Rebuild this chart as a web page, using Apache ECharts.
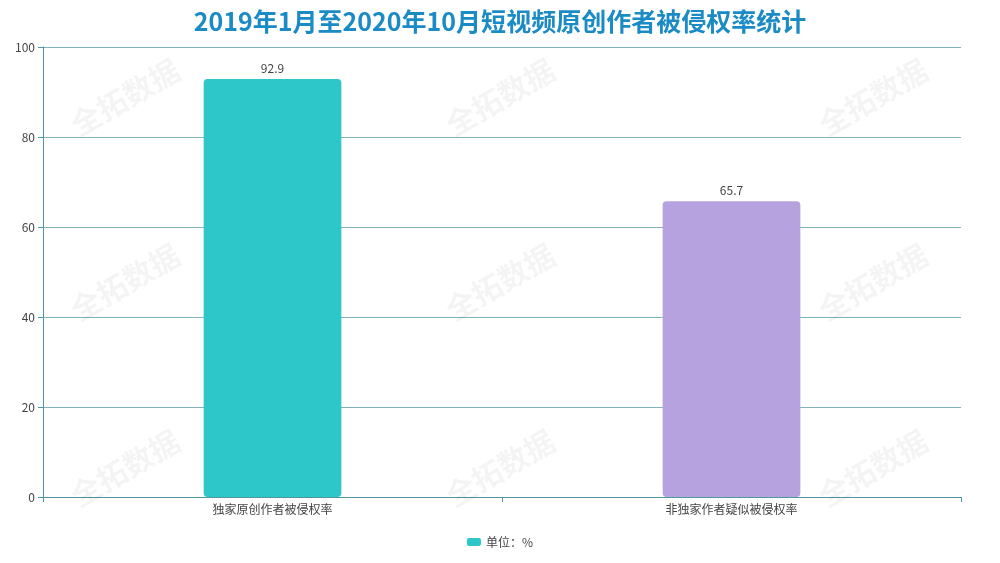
<!DOCTYPE html>
<html><head><meta charset="utf-8">
<script src="https://cdn.jsdelivr.net/npm/echarts@6/dist/echarts.min.js"></script>
<style>html,body{margin:0;padding:0;background:#fff}#c{width:1000px;height:563px}</style>
</head><body><div id="c"></div>
<script>
const categories = ['独家原创作者被侵权率', '非独家作者疑似被侵权率'];
const values = [92.9, 65.7];
const barColors = ['#2ec7c9', '#b6a2de'];
const yTicks = {min: 0, max: 100, interval: 20};
const seriesName = '单位：%';
const titleText = '2019年1月至2020年10月短视频原创作者被侵权率统计';

const font = '"Noto Sans CJK SC","Noto Sans",sans-serif';
const axisColor = '#4f97a3';
const splitColor = '#80b3ba';
const wmPos = [];
[125, 500, 873].forEach(x => [97, 282, 468].forEach(y => wmPos.push([x, y])));
const chart = echarts.init(document.getElementById('c'));
chart.setOption({
  textStyle: {fontFamily: font},
  title: {text: titleText, left: 'center', top: 4,
    textStyle: {fontSize: 25, fontWeight: 'bold', color: '#1a8bc4', fontFamily: font}},
  graphic: wmPos.map(p => ({type: 'text', x: p[0], y: p[1], rotation: Math.PI / 6, z: 100,
    style: {text: '全拓数据', fontSize: 30, fontWeight: 'bold', fill: 'rgba(0,0,0,0.045)',
      align: 'center', verticalAlign: 'middle', fontFamily: font}})),
  legend: {bottom: 10, left: 'center', itemWidth: 14, itemHeight: 8, icon: 'roundRect',
    textStyle: {color: '#444', fontSize: 12}, data: [seriesName]},
  grid: {left: 43, right: 39, top: 47, bottom: 66, containLabel: false},
  xAxis: {type: 'category', data: categories,
    axisLine: {show: true, lineStyle: {color: axisColor, width: 1}},
    axisTick: {show: true, alignWithLabel: false, lineStyle: {color: axisColor}},
    axisLabel: {color: '#444', fontSize: 12, margin: 6}},
  yAxis: {type: 'value', min: yTicks.min, max: yTicks.max, interval: yTicks.interval,
    axisLine: {show: true, lineStyle: {color: axisColor, width: 1}},
    axisTick: {show: true, length: 5, lineStyle: {color: axisColor}},
    splitLine: {show: true, lineStyle: {color: splitColor, width: 1}},
    axisLabel: {color: '#444', fontSize: 12, margin: 8}},
  series: [{name: seriesName, type: 'bar', barWidth: '30%',
    itemStyle: {color: barColors[0], borderRadius: [4, 4, 4, 4]},
    label: {show: true, position: 'top', color: '#444', fontSize: 12},
    data: values.map((v, i) => ({value: v, itemStyle: {color: barColors[i]}}))}]
});
</script></body></html>
